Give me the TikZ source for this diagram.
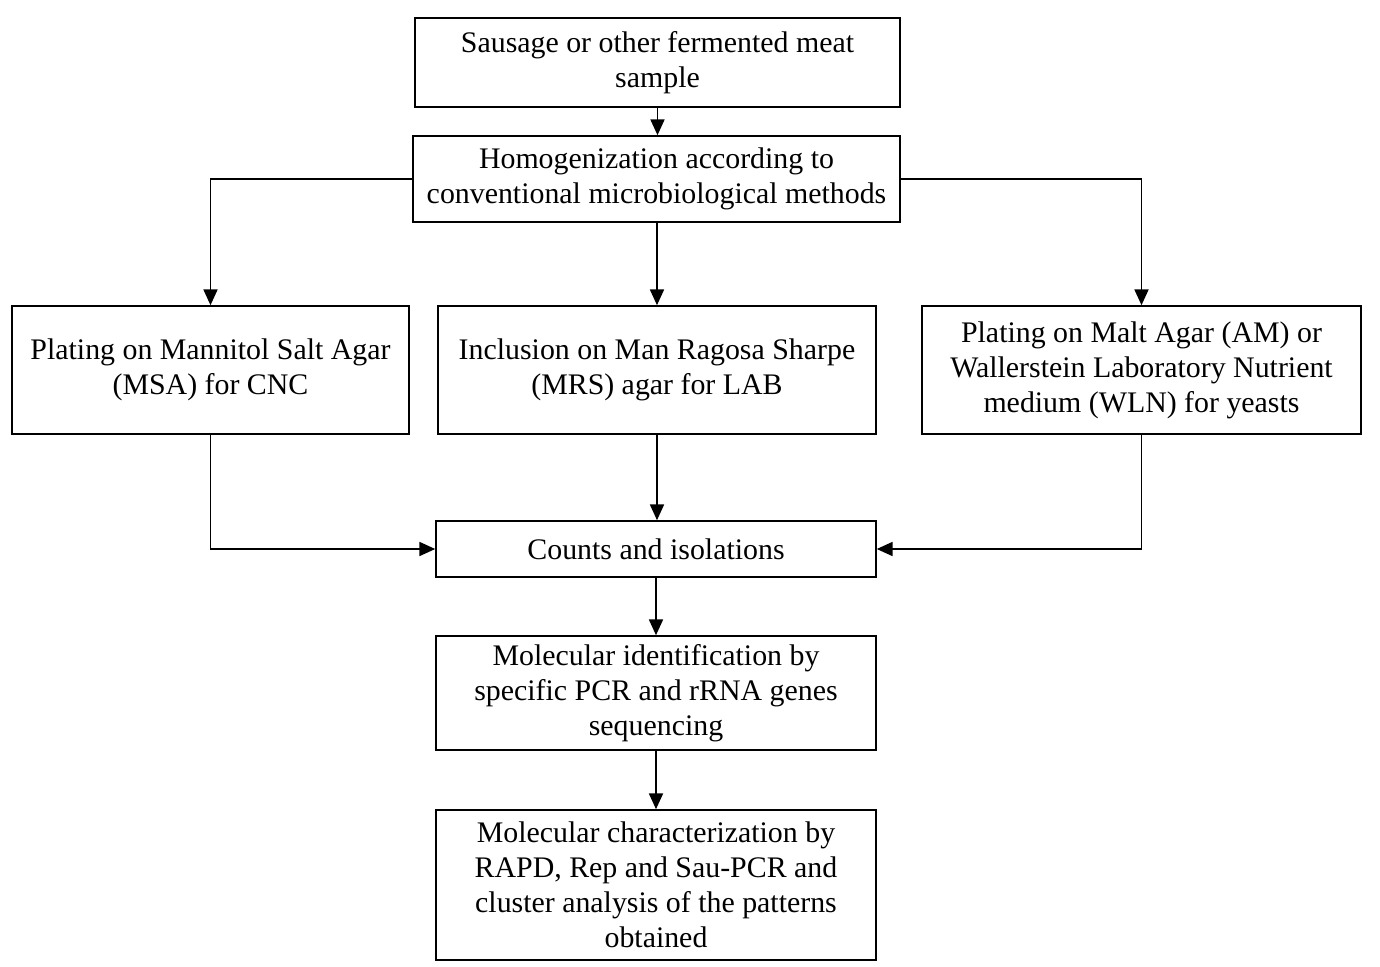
\documentclass[tikz,border=0pt]{standalone}
\usepackage{fontspec}
\setmainfont{Liberation Serif}
\usetikzlibrary{arrows.meta}
\begin{document}
\begin{tikzpicture}[x=0.02cm,y=-0.02cm,
  box/.style={draw,line width=0.9pt,align=center,inner sep=2pt,font=\fontsize{17}{20}\selectfont},
  arr/.style={line width=0.9pt,-{Triangle[length=9pt,width=8pt]}}]
\useasboundingbox (0,0) rectangle (1380,967);
\node[box,minimum width=485*0.02cm,minimum height=89*0.02cm] (a) at (657.5,62.5) {Sausage or other fermented meat\\sample};
\node[box,minimum width=487*0.02cm,minimum height=86*0.02cm] (b) at (656.5,179) {Homogenization according to\\conventional microbiological methods};
\node[box,minimum width=397*0.02cm,minimum height=128*0.02cm] (c) at (210.5,370) {Plating on Mannitol Salt Agar\\(MSA) for CNC};
\node[box,minimum width=438*0.02cm,minimum height=128*0.02cm] (d) at (657,370) {Inclusion on Man Ragosa Sharpe\\(MRS) agar for LAB};
\node[box,minimum width=439*0.02cm,minimum height=128*0.02cm] (e) at (1141.5,370) {Plating on Malt Agar (AM) or\\Wallerstein Laboratory Nutrient\\medium (WLN) for yeasts};
\node[box,minimum width=440*0.02cm,minimum height=56*0.02cm] (f) at (656,549) {Counts and isolations};
\node[box,minimum width=440*0.02cm,minimum height=114*0.02cm] (g) at (656,693) {Molecular identification by\\specific PCR and rRNA genes\\sequencing};
\node[box,minimum width=440*0.02cm,minimum height=150*0.02cm] (h) at (656,885) {Molecular characterization by\\RAPD, Rep and Sau-PCR and\\cluster analysis of the patterns\\obtained};
\draw[arr] (a.south) -- (a.south|-b.north);
\draw[arr] (b.west) -| (c.north);
\draw[arr] (b.east) -| (e.north);
\draw[arr] (b.south-|d.north) -- (d.north);
\draw[arr] (c.south) |- (f.west);
\draw[arr] (e.south) |- (f.east);
\draw[arr] (d.south) -- (d.south|-f.north);
\draw[arr] (f.south) -- (f.south|-g.north);
\draw[arr] (g.south) -- (g.south|-h.north);
\end{tikzpicture}
\end{document}
